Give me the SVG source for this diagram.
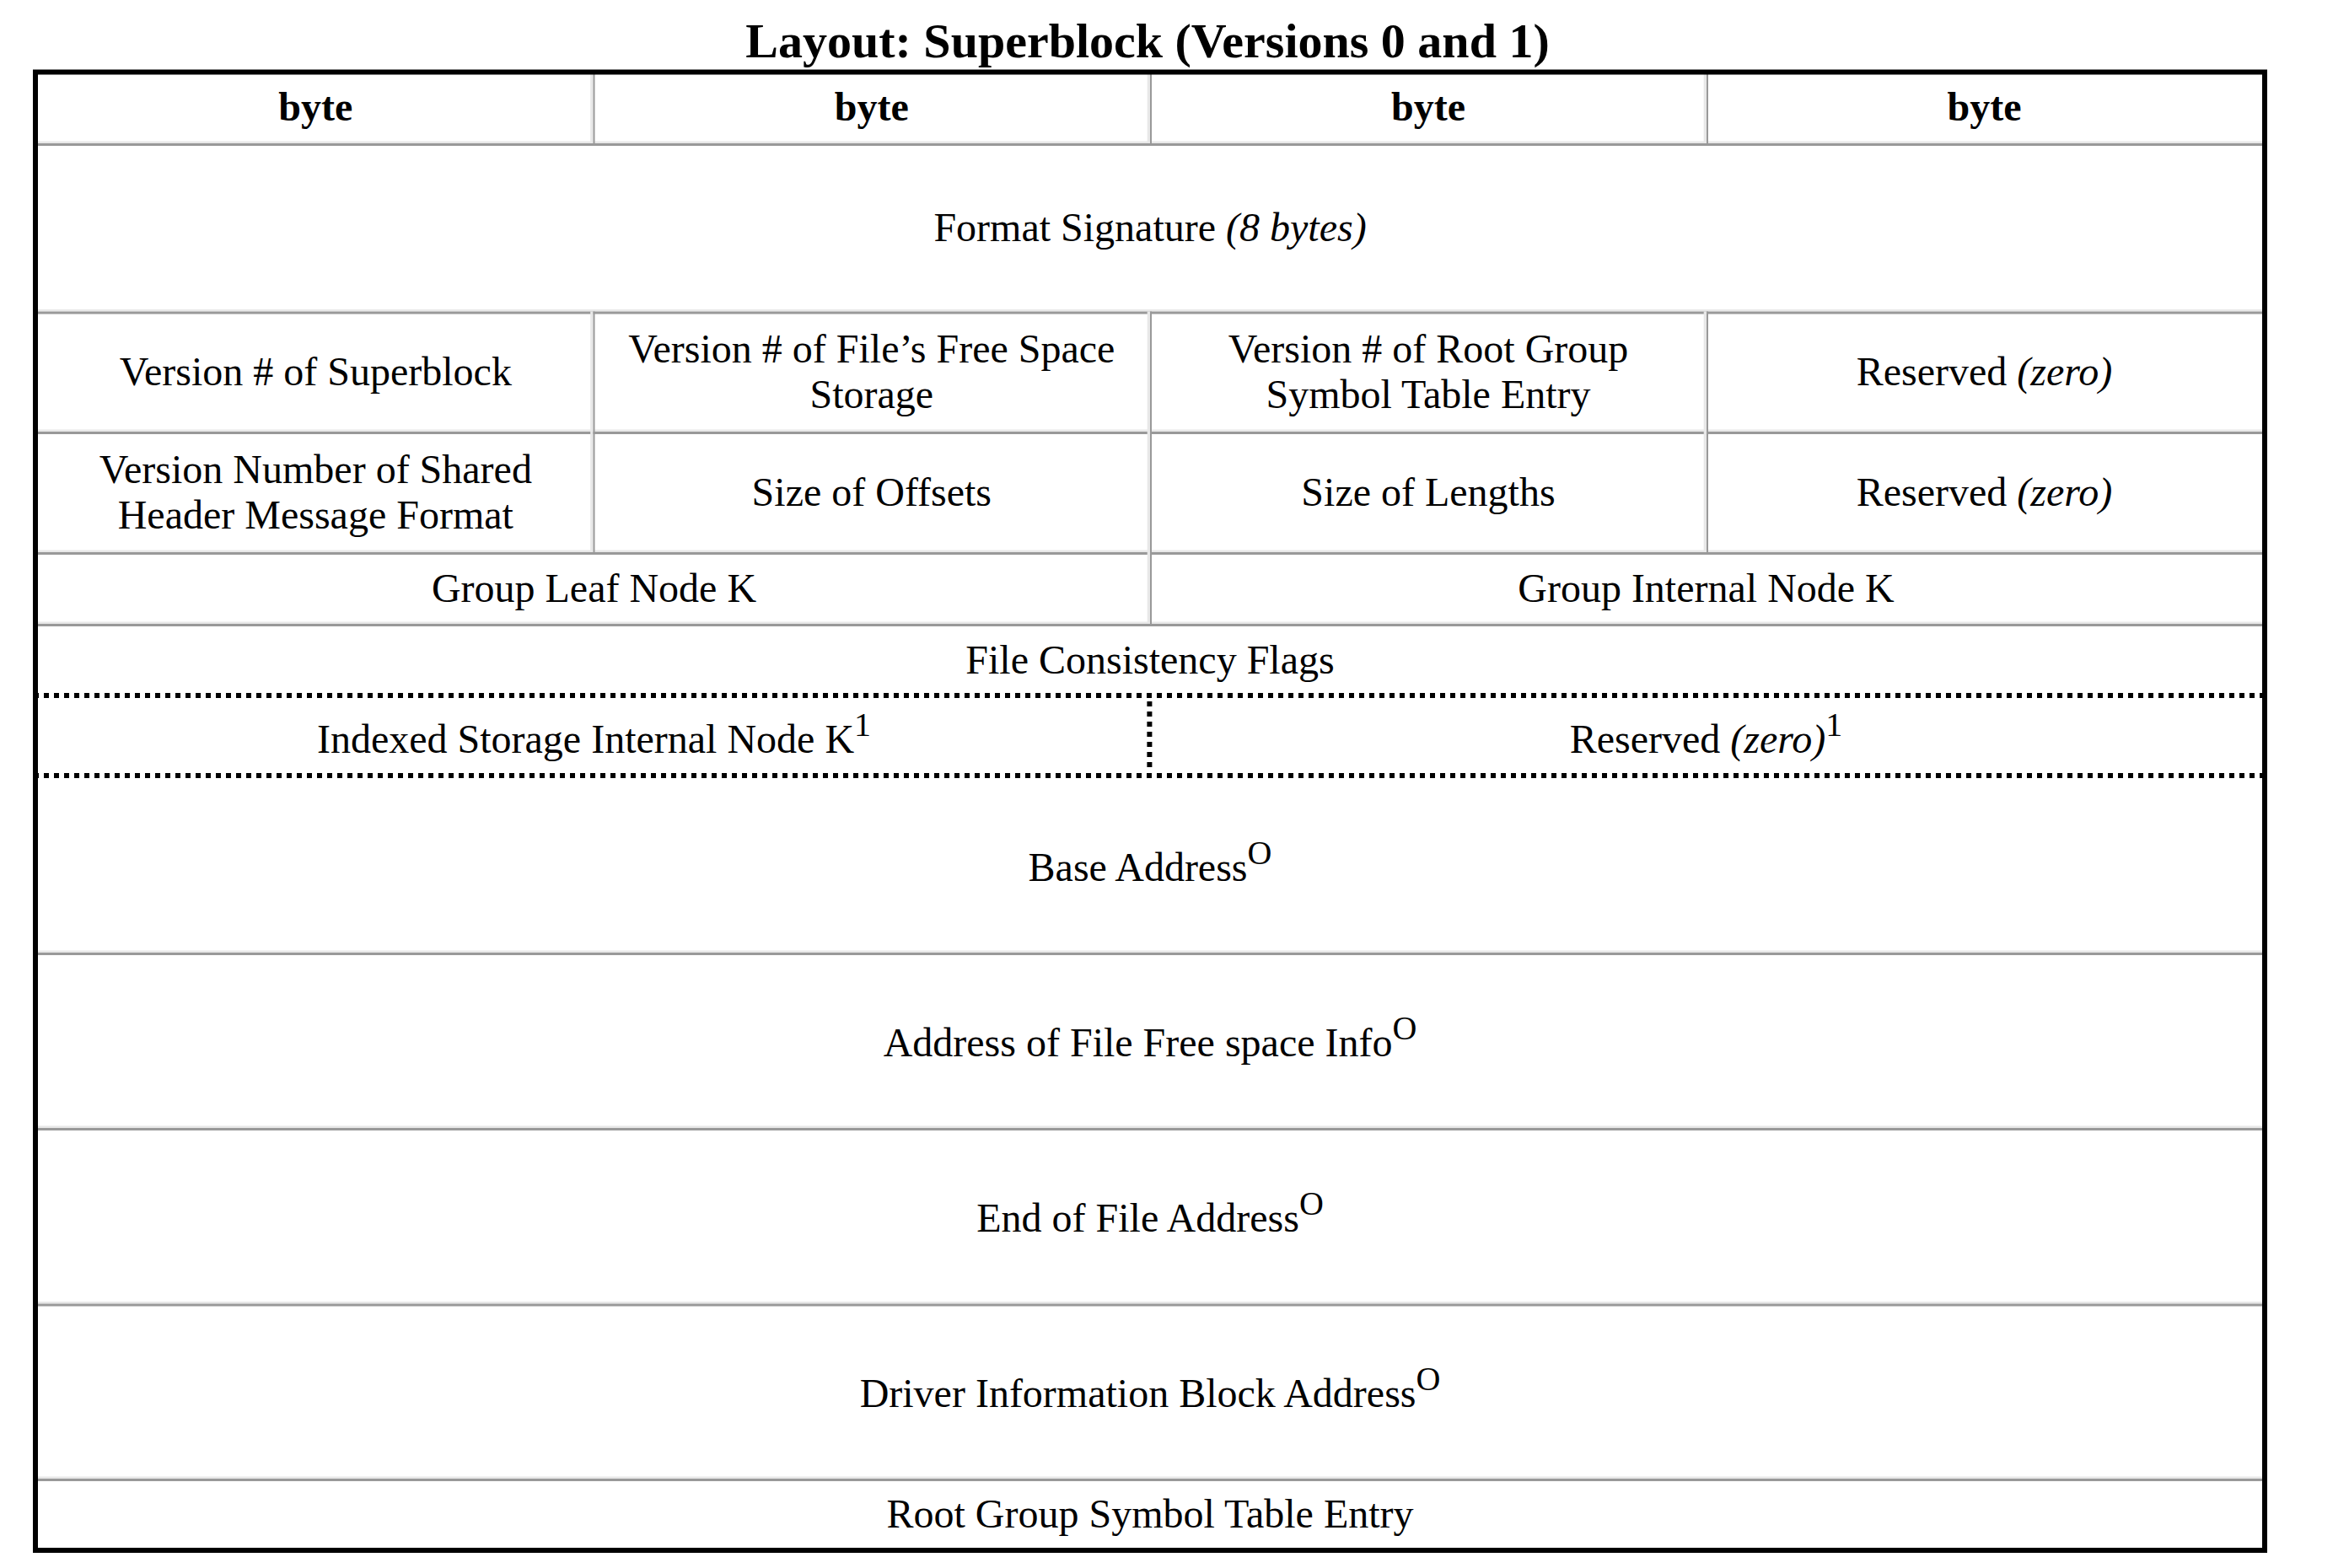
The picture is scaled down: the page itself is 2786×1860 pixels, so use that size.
<svg xmlns="http://www.w3.org/2000/svg" width="2786" height="1860" viewBox="0 0 2786 1860">
<style>
text{font-family:"Liberation Serif","Times New Roman",serif;font-size:48px;fill:#000;text-anchor:middle}
.b{font-weight:bold}
.t{font-weight:bold;font-size:58px}
.i{font-style:italic}
.lt{fill:#e8e8e8}
.dk{fill:#999}
.dot{stroke:#000;stroke-width:6;stroke-dasharray:6 6;fill:none}
</style>
<rect width="2786" height="1860" fill="#fff"/>
<g id="title"><text class="t" x="1361" y="68">Layout: Superblock (Versions 0 and 1)</text></g>
<g id="connectors">
<!-- horizontal gray boundaries -->
<rect class="lt" x="45" y="167.5" width="2638" height="2.5"/><rect class="dk" x="45" y="170" width="2638" height="3"/>
<rect class="lt" x="45" y="367" width="2638" height="2.5"/><rect class="dk" x="45" y="369.5" width="2638" height="3"/>
<rect class="lt" x="45" y="509.5" width="2638" height="2.5"/><rect class="dk" x="45" y="512" width="2638" height="3"/>
<rect class="lt" x="45" y="652.5" width="2638" height="2.5"/><rect class="dk" x="45" y="655" width="2638" height="3"/>
<rect class="lt" x="45" y="737.5" width="2638" height="2.5"/><rect class="dk" x="45" y="740" width="2638" height="3"/>
<rect class="lt" x="45" y="1127.5" width="2638" height="2.5"/><rect class="dk" x="45" y="1130" width="2638" height="3"/>
<rect class="lt" x="45" y="1335.5" width="2638" height="2.5"/><rect class="dk" x="45" y="1338" width="2638" height="3"/>
<rect class="lt" x="45" y="1544" width="2638" height="2.5"/><rect class="dk" x="45" y="1546.5" width="2638" height="3"/>
<rect class="lt" x="45" y="1751.5" width="2638" height="2.5"/><rect class="dk" x="45" y="1754" width="2638" height="3"/>
<!-- vertical gray boundaries: header row -->
<rect class="lt" x="700.2" y="88" width="3.3" height="82"/><rect class="dk" x="703.5" y="88" width="2" height="82"/>
<rect class="lt" x="1360.7" y="88" width="3.3" height="82"/><rect class="dk" x="1364" y="88" width="2" height="82"/>
<rect class="lt" x="2020.7" y="88" width="3.3" height="82"/><rect class="dk" x="2024" y="88" width="2" height="82"/>
<!-- rows 3 and 4 -->
<rect class="lt" x="700.2" y="369.5" width="3.3" height="285.5"/><rect class="dk" x="703.5" y="369.5" width="2" height="285.5"/>
<rect class="lt" x="1360.7" y="369.5" width="3.3" height="285.5"/><rect class="dk" x="1364" y="369.5" width="2" height="285.5"/>
<rect class="lt" x="2020.7" y="369.5" width="3.3" height="285.5"/><rect class="dk" x="2024" y="369.5" width="2" height="285.5"/>
<!-- row 5 -->
<rect class="lt" x="1360.7" y="655" width="3.3" height="85"/><rect class="dk" x="1364" y="655" width="2" height="85"/>
<!-- dotted boundaries -->
<line class="dot" x1="40" y1="825" x2="2684" y2="825"/>
<line class="dot" x1="40" y1="920" x2="2684" y2="920"/>
<line class="dot" x1="1363.4" y1="832" x2="1363.4" y2="911"/>
<!-- outer border -->
<rect x="42" y="85.5" width="2644" height="1753.5" fill="none" stroke="#000" stroke-width="6"/>
</g>
<g id="h1"><text class="b" x="374.3" y="143">byte</text></g>
<g id="h2"><text class="b" x="1033.8" y="143">byte</text></g>
<g id="h3"><text class="b" x="1694" y="143">byte</text></g>
<g id="h4"><text class="b" x="2353.5" y="143">byte</text></g>
<g id="signature"><text x="1364" y="286">Format Signature <tspan class="i">(8 bytes)</tspan></text></g>
<g id="ver-superblock"><text x="374.3" y="457">Version # of Superblock</text></g>
<g id="ver-freespace"><text x="1033.8" y="430">Version # of File’s Free Space</text><text x="1033.8" y="484">Storage</text></g>
<g id="ver-rootgroup"><text x="1694" y="430">Version # of Root Group</text><text x="1694" y="484">Symbol Table Entry</text></g>
<g id="reserved1"><text x="2353.5" y="457">Reserved <tspan class="i">(zero)</tspan></text></g>
<g id="ver-shared"><text x="374.3" y="572.5">Version Number of Shared</text><text x="374.3" y="626.5">Header Message Format</text></g>
<g id="size-offsets"><text x="1033.8" y="599.5">Size of Offsets</text></g>
<g id="size-lengths"><text x="1694" y="599.5">Size of Lengths</text></g>
<g id="reserved2"><text x="2353.5" y="599.5">Reserved <tspan class="i">(zero)</tspan></text></g>
<g id="leaf-k"><text x="704.5" y="713.5">Group Leaf Node K</text></g>
<g id="internal-k"><text x="2023.5" y="713.5">Group Internal Node K</text></g>
<g id="flags"><text x="1364" y="798.5">File Consistency Flags</text></g>
<g id="indexed-k"><text x="704.5" y="893">Indexed Storage Internal Node K<tspan font-size="40" dy="-20">1</tspan></text></g>
<g id="reserved3"><text x="2023.5" y="893">Reserved <tspan class="i">(zero)</tspan><tspan font-size="40" dy="-20">1</tspan></text></g>
<g id="base-addr"><text x="1364" y="1045">Base Address<tspan font-size="40" dy="-20">O</tspan></text></g>
<g id="freespace-addr"><text x="1364" y="1253">Address of File Free space Info<tspan font-size="40" dy="-20">O</tspan></text></g>
<g id="eof-addr"><text x="1364" y="1461">End of File Address<tspan font-size="40" dy="-20">O</tspan></text></g>
<g id="driver-addr"><text x="1364" y="1669">Driver Information Block Address<tspan font-size="40" dy="-20">O</tspan></text></g>
<g id="root-entry"><text x="1364" y="1812">Root Group Symbol Table Entry</text></g>
</svg>
